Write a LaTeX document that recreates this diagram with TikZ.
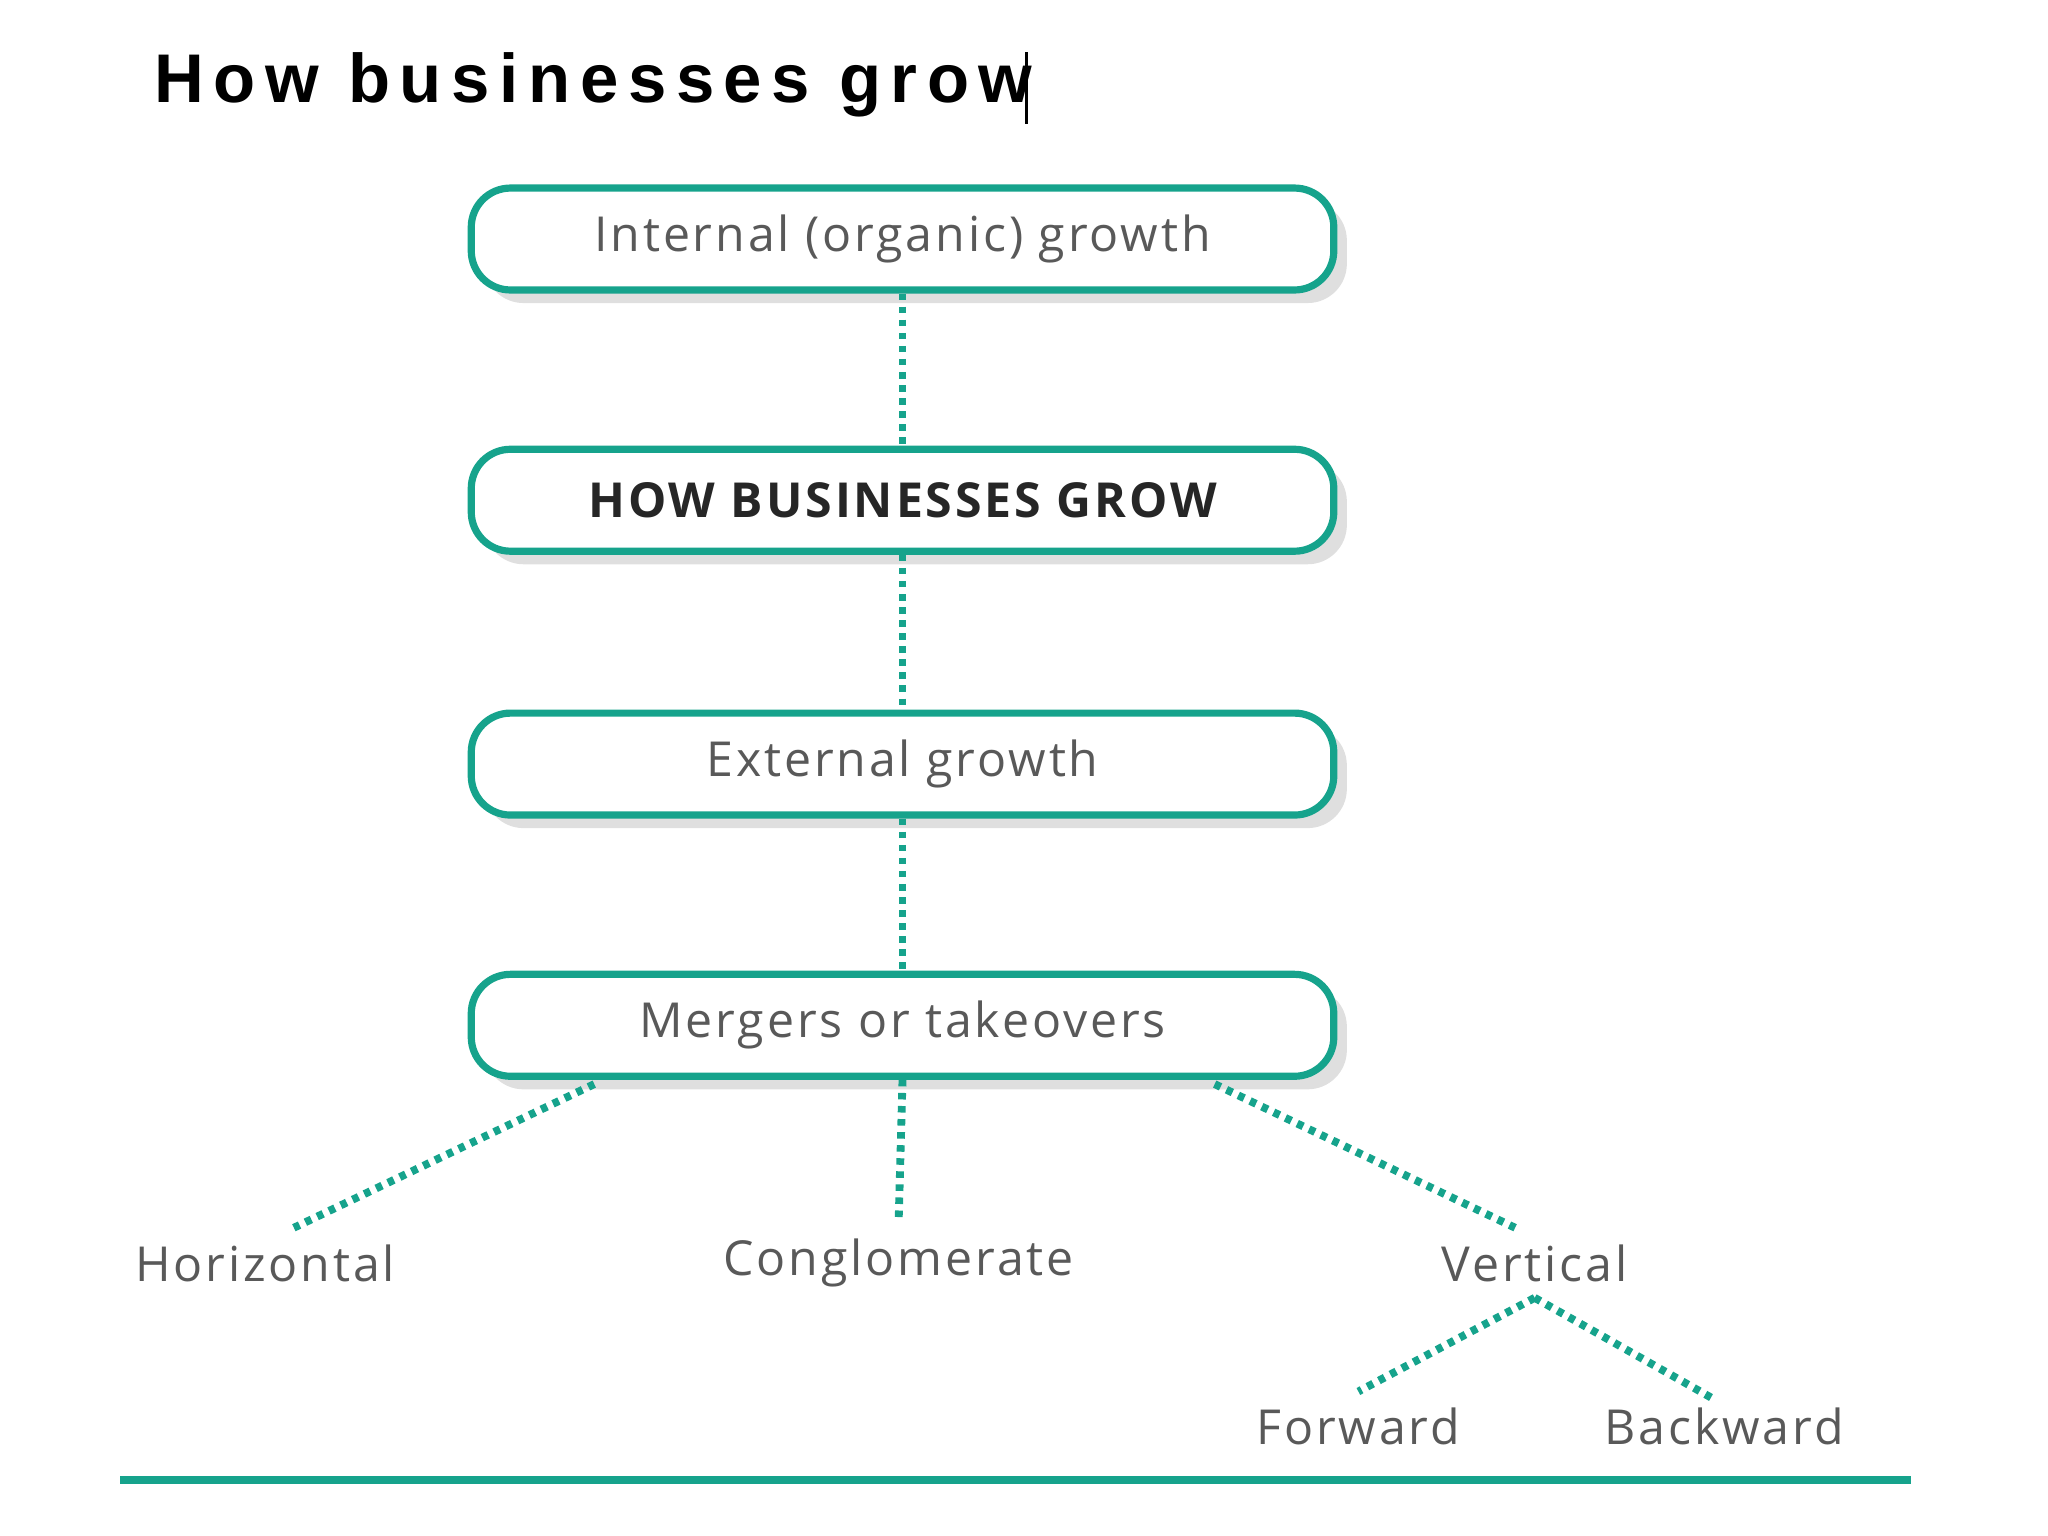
\documentclass[tikz,border=0pt]{standalone}
\usepackage{fontspec}
\setmainfont{Open Sans}[LetterSpace=6]
\newfontfamily\titlefont{Liberation Sans}[LetterSpace=14]
\usetikzlibrary{shadows}
\definecolor{teal1}{RGB}{22,163,140}
\begin{document}
\begin{tikzpicture}[x=0.01cm,y=-0.01cm,
  box/.style={draw=teal1,line width=0.055cm,rounded corners=0.3cm,fill=white,minimum width=6.6cm,minimum height=0.78cm,font=\fontsize{10.5}{12}\selectfont\color{black!65},drop shadow={opacity=0.25,shadow xshift=0.1cm,shadow yshift=-0.1cm}},
  dots/.style={draw=teal1,line width=0.06cm,dash pattern=on 0.05cm off 0.05cm},
  lab/.style={font=\fontsize{10.5}{12}\selectfont\color{black!65}}]
\useasboundingbox (0,0) rectangle (1568,1176);
\node[font=\titlefont\bfseries\fontsize{15}{18}\selectfont,anchor=west] (title) at (106,65) {How businesses grow};
\draw[line width=0.02cm] (786,40) -- (786,95);
\node[box] (b1) at (691,183) {Internal (organic) growth};
\node[box,font=\bfseries\fontsize{10.5}{12}\selectfont\color{black!85}] (b2) at (691,383) {HOW BUSINESSES GROW};
\node[box] (b3) at (691,585) {External growth};
\node[box] (b4) at (691,785) {Mergers or takeovers};
\node[lab] (h) at (203,967) {Horizontal};
\node[lab] (c) at (688,967) {Conglomerate};
\node[lab] (v) at (1175,967) {Vertical};
\node[lab] (f) at (1040,1092) {Forward};
\node[lab] (bw) at (1320,1092) {Backward};
\coordinate (he) at (225,940);
\coordinate (ve) at (1160,940);
\coordinate (be) at (1310,1070);
\draw[dots] (b1.south) -- (b2.north);
\draw[dots] (b2.south) -- (b3.north);
\draw[dots] (b3.south) -- (b4.north);
\draw[dots] (455,830) -- (he);
\draw[dots] (b4.south) -- (c.north);
\draw[dots] (930,830) -- (ve);
\draw[dots] (v.south) -- (f.north);
\draw[dots] (v.south) -- (be);
\draw[teal1,line width=0.06cm] (92,1133) -- (1463,1133);
\end{tikzpicture}
\end{document}
